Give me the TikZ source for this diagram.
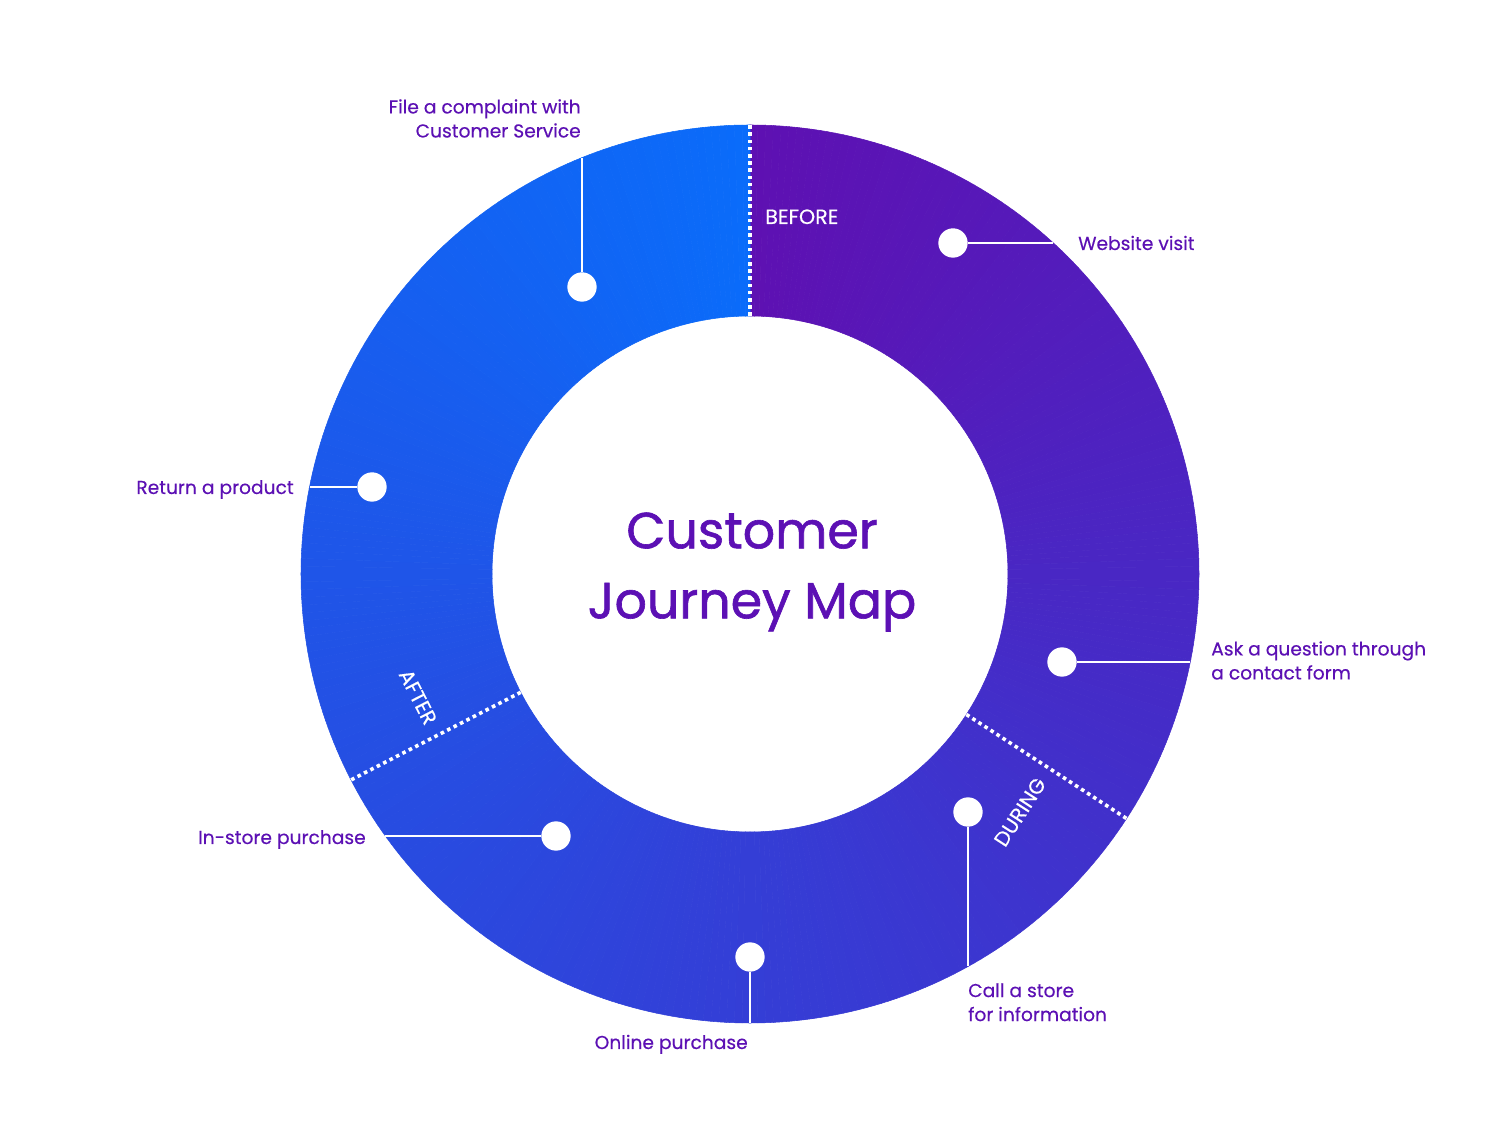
\documentclass[tikz,border=0pt]{standalone}
\usepackage{fontspec}
\setmainfont[FakeBold=0.3]{Poppins}
\newfontfamily\titlefont[FakeBold=1.2]{Poppins}
\definecolor{ringpurple}{RGB}{94,16,178}
\definecolor{ringblue}{RGB}{10,108,250}
\definecolor{txtpurple}{RGB}{92,16,180}
\begin{document}
\begin{tikzpicture}[x=0.75pt,y=0.75pt,
  dot/.style={circle,fill=white,minimum size=22pt,inner sep=0pt},
  conn/.style={draw=white,line width=2.2pt},
  sep/.style={draw=white,line width=2.7pt,dash pattern=on 2.7pt off 2.7pt},
  lbl/.style={text=txtpurple,font=\fontsize{14}{18}\selectfont,inner sep=0pt},
  seg/.style={text=white,font=\fontsize{15.5}{18}\selectfont,inner sep=0pt},
  ttl/.style={text=txtpurple,font=\titlefont\fontsize{38}{52.5}\selectfont,align=center,inner sep=0pt}]
\fill[white] (0,0) rectangle (1500,1142);
\useasboundingbox (0,0) rectangle (1500,1142);
\coordinate (C) at (750,568);
% conic gradient ring
\foreach \i in {0,...,359}{
  \pgfmathsetmacro\p{\i/3.59}
  \pgfmathsetmacro\a{90-\i}
  \pgfmathsetmacro\b{89-\i}
  \colorlet{wc}{ringblue!\p!ringpurple}
  \filldraw[shift={(750,568)},fill=wc,draw=wc,line width=0.4pt]
    (\a:258) -- (\a:449) -- (\b:449) -- (\b:258) -- cycle;
}
% separators
\begin{scope}[shift={(750,568)}]
  \coordinate (s1a) at (90:258);    \coordinate (s1b) at (90:449);
  \coordinate (s2a) at (-33:258);   \coordinate (s2b) at (-33:449);
  \coordinate (s3a) at (207.3:258); \coordinate (s3b) at (207.3:449);
\end{scope}
\draw[sep] (s1a) -- (s1b);
\draw[sep] (s2a) -- (s2b);
\draw[sep] (s3a) -- (s3b);
% phase labels
\node[seg,anchor=base west] (before) at (765,918) {BEFORE};
\node[seg,rotate=57] (during) at (1020,330) {DURING};
\node[seg,rotate=-63] (after) at (418,445) {AFTER};
% title
\node[ttl] (title) at (752,570) {Customer\\Journey Map};
% touchpoints
\node[dot] (d1) at (953,899) {};
\coordinate (e1) at (1053,899);
\draw[conn] (d1) -- (e1);
\node[lbl,anchor=base west] (t1) at (1078,892) {Website visit};

\node[dot] (d2) at (1062,480) {};
\coordinate (e2) at (1190,480);
\draw[conn] (d2) -- (e2);
\node[lbl,anchor=north west,align=left] (t2) at (1211,501) {Ask a question through\\a contact form};

\node[dot] (d3) at (968,330) {};
\coordinate (e3) at (968,175.5);
\draw[conn] (d3) -- (e3);
\node[lbl,anchor=north west,align=left] (t3) at (968,159) {Call a store\\for information};

\node[dot] (d4) at (750,185) {};
\coordinate (e4) at (750,119);
\draw[conn] (d4) -- (e4);
\node[lbl,anchor=base east] (t4) at (748,93) {Online purchase};

\node[dot] (d5) at (556,306) {};
\coordinate (e5) at (385.4,306);
\draw[conn] (d5) -- (e5);
\node[lbl,anchor=base east] (t5) at (366,298) {In-store purchase};

\node[dot] (d6) at (372,655) {};
\coordinate (e6) at (309.5,655);
\draw[conn] (d6) -- (e6);
\node[lbl,anchor=base east] (t6) at (294,648) {Return a product};

\node[dot] (d7) at (582,855) {};
\coordinate (e7) at (582,984.4);
\draw[conn] (d7) -- (e7);
\node[lbl,anchor=north east,align=right] (t7) at (581,1043) {File a complaint with\\Customer Service};
\end{tikzpicture}
\end{document}
